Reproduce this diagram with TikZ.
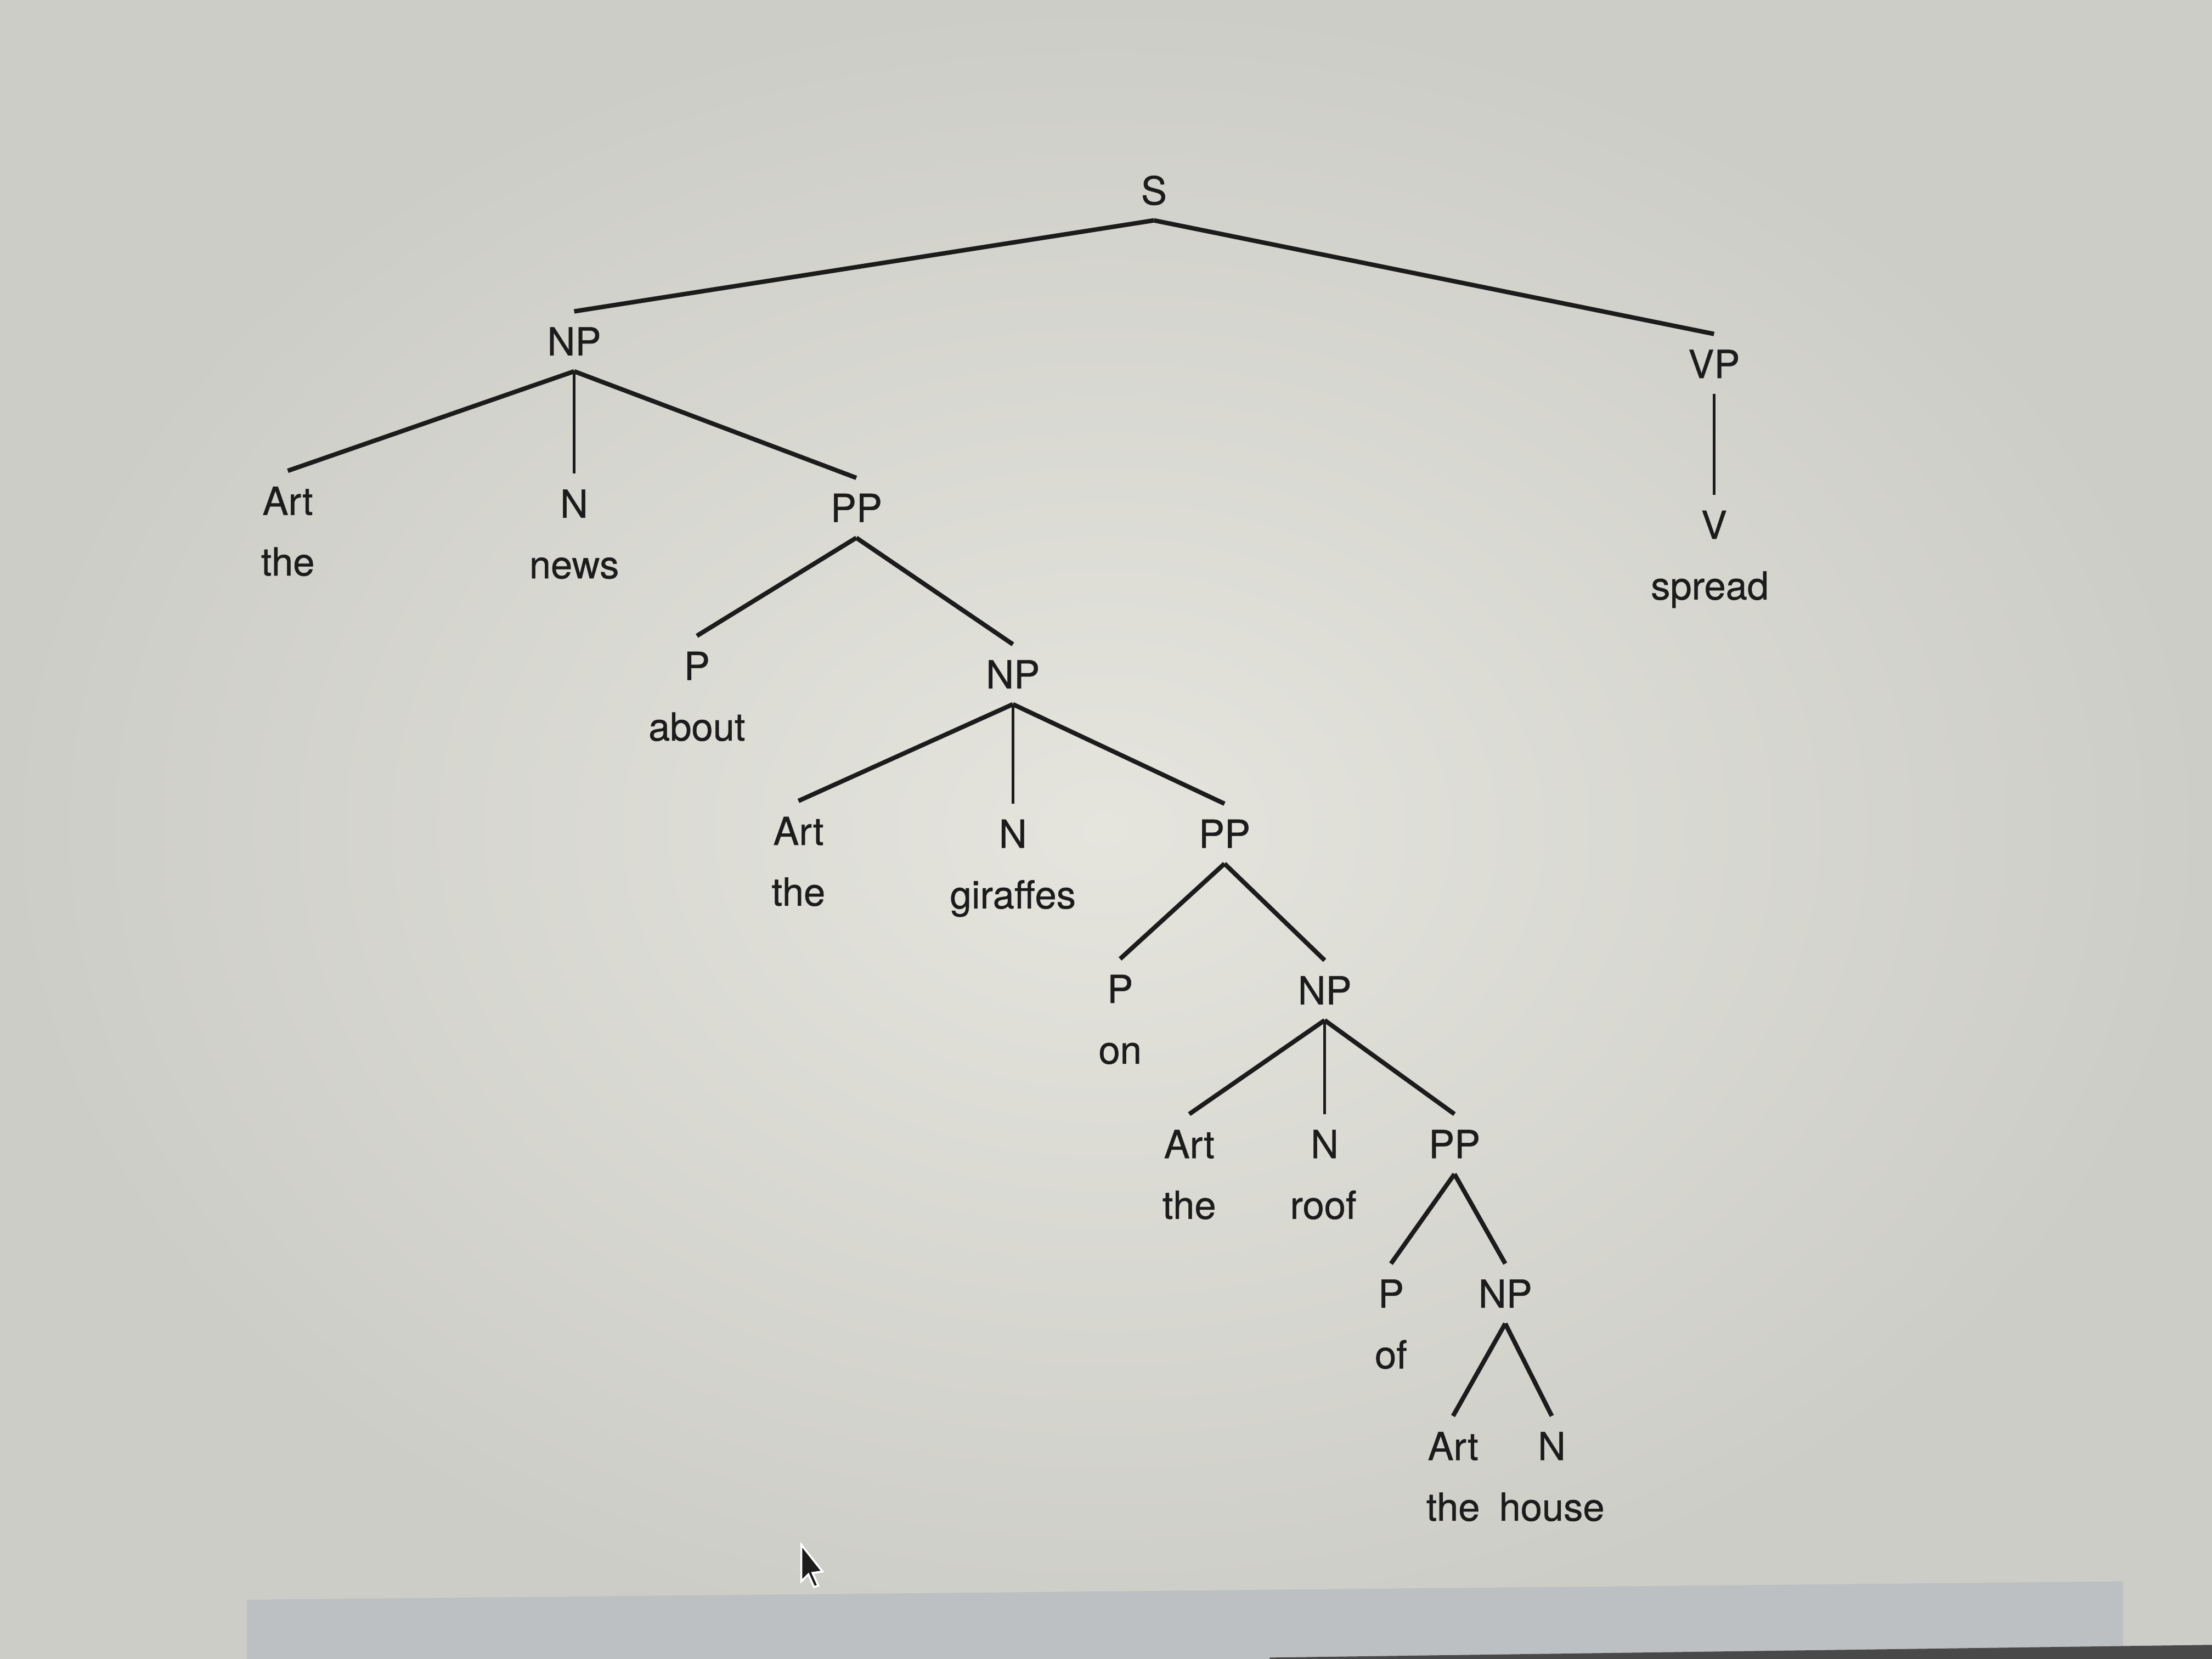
\documentclass[tikz,border=0pt]{standalone}
\usepackage{fontspec}
\setmainfont[FakeBold=0.7]{TeX Gyre Heros}
\definecolor{paper}{RGB}{229,229,222}
\definecolor{paperedge}{RGB}{205,205,199}
\definecolor{bar}{RGB}{188,192,195}
\definecolor{ink}{RGB}{28,28,28}

\tikzset{cat/.style={inner sep=3pt,text height=0.2cm,text depth=0pt,text=ink,
                font=\fontsize{7.8}{9}\selectfont},
        word/.style={inner sep=0pt,anchor=base,text=ink,
                font=\fontsize{7.8}{9}\selectfont},
        branch/.style={draw=ink,line width=0.9pt},
        stem/.style={draw=ink,line width=0.5pt}}

\begin{document}
\begin{tikzpicture}
        \useasboundingbox (0,0) rectangle (15.68,11.76);
        % photo of the screen
        \shade[inner color=paper,outer color=paperedge] (0,0) rectangle (15.68,11.76);
        \fill[bar] (1.75,0) -- (15.05,0) -- (15.05,0.55) -- (1.75,0.42) -- cycle;
        \fill[ink!80] (9,0) -- (15.68,0) -- (15.68,0.1) -- (9,0.01) -- cycle;
        \filldraw[fill=ink,draw=white,line width=0.4pt] (5.68,0.81) -- (5.68,0.55) -- (5.73,0.60)
                -- (5.77,0.51) -- (5.80,0.52) -- (5.76,0.61) -- (5.83,0.62) -- cycle;

        % categories
        \node[cat] (S) at (8.18,10.41) {S};
        \node[cat] (NP) at (4.07,9.34) {NP};
        \node[cat] (VP) at (12.15,9.18) {VP};
        \node[cat] (ArtA) at (2.04,8.21) {Art};
        \node[cat] (NA) at (4.07,8.19) {N};
        \node[cat] (PPA) at (6.07,8.16) {PP};
        \node[cat] (V) at (12.15,8.04) {V};
        \node[cat] (PA) at (4.94,7.04) {P};
        \node[cat] (NPB) at (7.18,6.98) {NP};
        \node[cat] (ArtB) at (5.66,5.87) {Art};
        \node[cat] (NB) at (7.18,5.85) {N};
        \node[cat] (PPB) at (8.68,5.85) {PP};
        \node[cat] (PB) at (7.94,4.75) {P};
        \node[cat] (NPC) at (9.39,4.74) {NP};
        \node[cat] (ArtC) at (8.43,3.65) {Art};
        \node[cat] (NC) at (9.39,3.65) {N};
        \node[cat] (PPC) at (10.31,3.65) {PP};
        \node[cat] (PC) at (9.86,2.59) {P};
        \node[cat] (NPD) at (10.67,2.59) {NP};
        \node[cat] (ArtD) at (10.30,1.51) {Art};
        \node[cat] (ND) at (11.00,1.51) {N};

        % words
        \node[word] (theA) at (2.04,7.68) {the};
        \node[word] (news) at (4.07,7.66) {news};
        \node[word] (spread) at (12.12,7.51) {spread};
        \node[word] (about) at (4.94,6.51) {about};
        \node[word] (theB) at (5.66,5.34) {the};
        \node[word] (giraffes) at (7.18,5.32) {giraffes};
        \node[word] (on) at (7.94,4.22) {on};
        \node[word] (theC) at (8.43,3.12) {the};
        \node[word] (roof) at (9.38,3.12) {roof};
        \node[word] (of) at (9.86,2.06) {of};
        \node[word] (theD) at (10.30,0.98) {the};
        \node[word] (house) at (11.00,0.98) {house};

        % branches
        \path [branch] (S.south) edge (NP.north);
        \path [branch] (S.south) edge (VP.north);
        \path [branch] (NP.south) edge (ArtA.north);
        \path [stem] (NP.south) edge (NA.north);
        \path [branch] (NP.south) edge (PPA.north);
        \path [stem] (VP.south) edge (V.north);
        \path [branch] (PPA.south) edge (PA.north);
        \path [branch] (PPA.south) edge (NPB.north);
        \path [branch] (NPB.south) edge (ArtB.north);
        \path [stem] (NPB.south) edge (NB.north);
        \path [branch] (NPB.south) edge (PPB.north);
        \path [branch] (PPB.south) edge (PB.north);
        \path [branch] (PPB.south) edge (NPC.north);
        \path [branch] (NPC.south) edge (ArtC.north);
        \path [stem] (NPC.south) edge (NC.north);
        \path [branch] (NPC.south) edge (PPC.north);
        \path [branch] (PPC.south) edge (PC.north);
        \path [branch] (PPC.south) edge (NPD.north);
        \path [branch] (NPD.south) edge (ArtD.north);
        \path [branch] (NPD.south) edge (ND.north);
\end{tikzpicture}
\end{document}
